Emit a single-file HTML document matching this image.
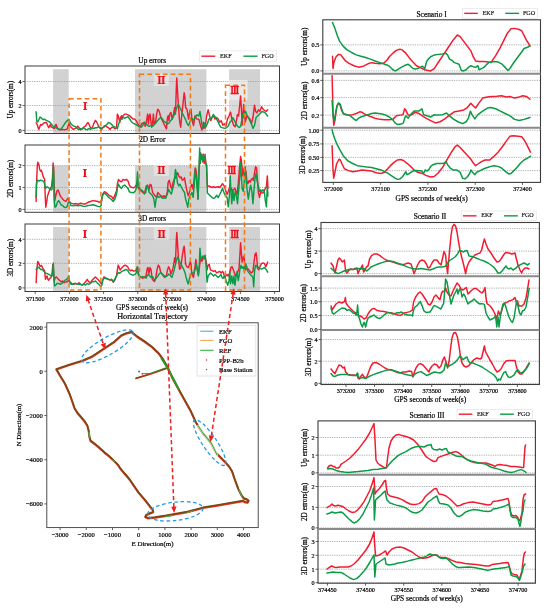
<!DOCTYPE html>
<html><head><meta charset="utf-8"><style>html,body{margin:0;padding:0;background:#fff;}svg{display:block;}</style></head>
<body><svg width="550" height="609" viewBox="0 0 550 609" font-family="'Liberation Serif', serif"><rect x="53.1" y="69.2" width="15.6" height="63.8" fill="#d2d2d2"/>
<rect x="135" y="69.2" width="71.4" height="63.8" fill="#d2d2d2"/>
<rect x="229.1" y="69.2" width="30.9" height="63.8" fill="#d2d2d2"/>
<rect x="25" y="66" width="254.5" height="67.5" fill="none" stroke="#3c3c3c" stroke-width="1.0"/>
<line x1="25" y1="130.4" x2="279.5" y2="130.4" stroke="#a0a0a0" stroke-width="0.8" stroke-dasharray="1.3,1.0"/>
<line x1="22.5" y1="130.4" x2="25" y2="130.4" stroke="#3c3c3c" stroke-width="0.8"/>
<text x="21.5" y="130.4" font-size="6.2" text-anchor="end" dominant-baseline="central" fill="#000" stroke="#000" stroke-width="0.2">0</text>
<line x1="25" y1="105.5" x2="279.5" y2="105.5" stroke="#a0a0a0" stroke-width="0.8" stroke-dasharray="1.3,1.0"/>
<line x1="22.5" y1="105.5" x2="25" y2="105.5" stroke="#3c3c3c" stroke-width="0.8"/>
<text x="21.5" y="105.5" font-size="6.2" text-anchor="end" dominant-baseline="central" fill="#000" stroke="#000" stroke-width="0.2">2</text>
<line x1="25" y1="81.5" x2="279.5" y2="81.5" stroke="#a0a0a0" stroke-width="0.8" stroke-dasharray="1.3,1.0"/>
<line x1="22.5" y1="81.5" x2="25" y2="81.5" stroke="#3c3c3c" stroke-width="0.8"/>
<text x="21.5" y="81.5" font-size="6.2" text-anchor="end" dominant-baseline="central" fill="#000" stroke="#000" stroke-width="0.2">4</text>
<text x="152.25" y="60.7" font-size="7.3" text-anchor="middle" dominant-baseline="central" fill="#000" stroke="#000" stroke-width="0.2">Up errors</text>
<text x="11.3" y="99.75" font-size="7.2" text-anchor="middle" dominant-baseline="central" fill="#000" stroke="#000" stroke-width="0.2" transform="rotate(-90 11.3 99.75)">Up errors(m)</text>
<rect x="53.1" y="165.6" width="15.6" height="46.2" fill="#d2d2d2"/>
<rect x="135" y="165.6" width="71.4" height="46.2" fill="#d2d2d2"/>
<rect x="229.1" y="165.6" width="30.9" height="46.2" fill="#d2d2d2"/>
<rect x="25" y="145" width="254.5" height="67.3" fill="none" stroke="#3c3c3c" stroke-width="1.0"/>
<line x1="25" y1="209.4" x2="279.5" y2="209.4" stroke="#a0a0a0" stroke-width="0.8" stroke-dasharray="1.3,1.0"/>
<line x1="22.5" y1="209.4" x2="25" y2="209.4" stroke="#3c3c3c" stroke-width="0.8"/>
<text x="21.5" y="209.4" font-size="6.2" text-anchor="end" dominant-baseline="central" fill="#000" stroke="#000" stroke-width="0.2">0</text>
<line x1="25" y1="187.5" x2="279.5" y2="187.5" stroke="#a0a0a0" stroke-width="0.8" stroke-dasharray="1.3,1.0"/>
<line x1="22.5" y1="187.5" x2="25" y2="187.5" stroke="#3c3c3c" stroke-width="0.8"/>
<text x="21.5" y="187.5" font-size="6.2" text-anchor="end" dominant-baseline="central" fill="#000" stroke="#000" stroke-width="0.2">1</text>
<line x1="25" y1="165.6" x2="279.5" y2="165.6" stroke="#a0a0a0" stroke-width="0.8" stroke-dasharray="1.3,1.0"/>
<line x1="22.5" y1="165.6" x2="25" y2="165.6" stroke="#3c3c3c" stroke-width="0.8"/>
<text x="21.5" y="165.6" font-size="6.2" text-anchor="end" dominant-baseline="central" fill="#000" stroke="#000" stroke-width="0.2">2</text>
<text x="152.25" y="139.7" font-size="7.3" text-anchor="middle" dominant-baseline="central" fill="#000" stroke="#000" stroke-width="0.2">2D Error</text>
<text x="11.3" y="178.65" font-size="7.2" text-anchor="middle" dominant-baseline="central" fill="#000" stroke="#000" stroke-width="0.2" transform="rotate(-90 11.3 178.65)">2D errors(m)</text>
<rect x="53.1" y="227" width="15.6" height="64" fill="#d2d2d2"/>
<rect x="135" y="227" width="71.4" height="64" fill="#d2d2d2"/>
<rect x="229.1" y="227" width="30.9" height="64" fill="#d2d2d2"/>
<rect x="25" y="224" width="254.5" height="67.5" fill="none" stroke="#3c3c3c" stroke-width="1.0"/>
<line x1="25" y1="287.9" x2="279.5" y2="287.9" stroke="#a0a0a0" stroke-width="0.8" stroke-dasharray="1.3,1.0"/>
<line x1="22.5" y1="287.9" x2="25" y2="287.9" stroke="#3c3c3c" stroke-width="0.8"/>
<text x="21.5" y="287.9" font-size="6.2" text-anchor="end" dominant-baseline="central" fill="#000" stroke="#000" stroke-width="0.2">0</text>
<line x1="25" y1="263.4" x2="279.5" y2="263.4" stroke="#a0a0a0" stroke-width="0.8" stroke-dasharray="1.3,1.0"/>
<line x1="22.5" y1="263.4" x2="25" y2="263.4" stroke="#3c3c3c" stroke-width="0.8"/>
<text x="21.5" y="263.4" font-size="6.2" text-anchor="end" dominant-baseline="central" fill="#000" stroke="#000" stroke-width="0.2">2</text>
<line x1="25" y1="239.3" x2="279.5" y2="239.3" stroke="#a0a0a0" stroke-width="0.8" stroke-dasharray="1.3,1.0"/>
<line x1="22.5" y1="239.3" x2="25" y2="239.3" stroke="#3c3c3c" stroke-width="0.8"/>
<text x="21.5" y="239.3" font-size="6.2" text-anchor="end" dominant-baseline="central" fill="#000" stroke="#000" stroke-width="0.2">4</text>
<text x="152.25" y="218.7" font-size="7.3" text-anchor="middle" dominant-baseline="central" fill="#000" stroke="#000" stroke-width="0.2">3D errors</text>
<text x="11.3" y="257.75" font-size="7.2" text-anchor="middle" dominant-baseline="central" fill="#000" stroke="#000" stroke-width="0.2" transform="rotate(-90 11.3 257.75)">3D errors(m)</text>
<line x1="35.2" y1="291.5" x2="35.2" y2="294" stroke="#3c3c3c" stroke-width="0.8"/>
<text x="35.2" y="298.3" font-size="6.2" text-anchor="middle" dominant-baseline="central" fill="#000" stroke="#000" stroke-width="0.2">371500</text>
<line x1="69.4" y1="291.5" x2="69.4" y2="294" stroke="#3c3c3c" stroke-width="0.8"/>
<text x="69.4" y="298.3" font-size="6.2" text-anchor="middle" dominant-baseline="central" fill="#000" stroke="#000" stroke-width="0.2">372000</text>
<line x1="103.6" y1="291.5" x2="103.6" y2="294" stroke="#3c3c3c" stroke-width="0.8"/>
<text x="103.6" y="298.3" font-size="6.2" text-anchor="middle" dominant-baseline="central" fill="#000" stroke="#000" stroke-width="0.2">372500</text>
<line x1="137.8" y1="291.5" x2="137.8" y2="294" stroke="#3c3c3c" stroke-width="0.8"/>
<text x="137.8" y="298.3" font-size="6.2" text-anchor="middle" dominant-baseline="central" fill="#000" stroke="#000" stroke-width="0.2">373000</text>
<line x1="172" y1="291.5" x2="172" y2="294" stroke="#3c3c3c" stroke-width="0.8"/>
<text x="172" y="298.3" font-size="6.2" text-anchor="middle" dominant-baseline="central" fill="#000" stroke="#000" stroke-width="0.2">373500</text>
<line x1="206.2" y1="291.5" x2="206.2" y2="294" stroke="#3c3c3c" stroke-width="0.8"/>
<text x="206.2" y="298.3" font-size="6.2" text-anchor="middle" dominant-baseline="central" fill="#000" stroke="#000" stroke-width="0.2">374000</text>
<line x1="240.4" y1="291.5" x2="240.4" y2="294" stroke="#3c3c3c" stroke-width="0.8"/>
<text x="240.4" y="298.3" font-size="6.2" text-anchor="middle" dominant-baseline="central" fill="#000" stroke="#000" stroke-width="0.2">374500</text>
<line x1="274.6" y1="291.5" x2="274.6" y2="294" stroke="#3c3c3c" stroke-width="0.8"/>
<text x="274.6" y="298.3" font-size="6.2" text-anchor="middle" dominant-baseline="central" fill="#000" stroke="#000" stroke-width="0.2">375000</text>
<text x="152" y="307.6" font-size="7.4" text-anchor="middle" dominant-baseline="central" fill="#000" stroke="#000" stroke-width="0.2">GPS seconds of week(s)</text>
<rect x="199.6" y="50.9" width="76.8" height="10.6" fill="#fff" stroke="#e0e0e0" stroke-width="0.6"/>
<line x1="201.37" y1="56.2" x2="215.27" y2="56.2" stroke="#f21c30" stroke-width="1.4"/>
<text x="220.11" y="55.6" font-size="6.1" text-anchor="start" dominant-baseline="central" fill="#222" stroke="#222" stroke-width="0.2">EKF</text>
<line x1="243.38" y1="56.2" x2="257.58" y2="56.2" stroke="#0a9c45" stroke-width="1.4"/>
<text x="261.42" y="55.6" font-size="6.1" text-anchor="start" dominant-baseline="central" fill="#222" stroke="#222" stroke-width="0.2">FGO</text>
<line x1="322.8" y1="70.9" x2="540.5" y2="70.9" stroke="#a0a0a0" stroke-width="0.8" stroke-dasharray="1.3,1.0"/>
<line x1="320.3" y1="70.9" x2="322.8" y2="70.9" stroke="#3c3c3c" stroke-width="0.8"/>
<text x="319.3" y="70.9" font-size="6.2" text-anchor="end" dominant-baseline="central" fill="#000" stroke="#000" stroke-width="0.2">0.0</text>
<line x1="322.8" y1="44.9" x2="540.5" y2="44.9" stroke="#a0a0a0" stroke-width="0.8" stroke-dasharray="1.3,1.0"/>
<line x1="320.3" y1="44.9" x2="322.8" y2="44.9" stroke="#3c3c3c" stroke-width="0.8"/>
<text x="319.3" y="44.9" font-size="6.2" text-anchor="end" dominant-baseline="central" fill="#000" stroke="#000" stroke-width="0.2">0.5</text>
<text x="304.4" y="46.8" font-size="7.3" text-anchor="middle" dominant-baseline="central" fill="#000" stroke="#000" stroke-width="0.2" transform="rotate(-90 304.4 46.8)">Up errors(m)</text>
<line x1="322.8" y1="115.1" x2="540.5" y2="115.1" stroke="#a0a0a0" stroke-width="0.8" stroke-dasharray="1.3,1.0"/>
<line x1="320.3" y1="115.1" x2="322.8" y2="115.1" stroke="#3c3c3c" stroke-width="0.8"/>
<text x="319.3" y="115.1" font-size="6.2" text-anchor="end" dominant-baseline="central" fill="#000" stroke="#000" stroke-width="0.2">0.2</text>
<line x1="322.8" y1="97.6" x2="540.5" y2="97.6" stroke="#a0a0a0" stroke-width="0.8" stroke-dasharray="1.3,1.0"/>
<line x1="320.3" y1="97.6" x2="322.8" y2="97.6" stroke="#3c3c3c" stroke-width="0.8"/>
<text x="319.3" y="97.6" font-size="6.2" text-anchor="end" dominant-baseline="central" fill="#000" stroke="#000" stroke-width="0.2">0.4</text>
<line x1="322.8" y1="80.4" x2="540.5" y2="80.4" stroke="#a0a0a0" stroke-width="0.8" stroke-dasharray="1.3,1.0"/>
<line x1="320.3" y1="80.4" x2="322.8" y2="80.4" stroke="#3c3c3c" stroke-width="0.8"/>
<text x="319.3" y="80.4" font-size="6.2" text-anchor="end" dominant-baseline="central" fill="#000" stroke="#000" stroke-width="0.2">0.6</text>
<text x="304.4" y="100.8" font-size="7.3" text-anchor="middle" dominant-baseline="central" fill="#000" stroke="#000" stroke-width="0.2" transform="rotate(-90 304.4 100.8)">2D errors(m)</text>
<line x1="322.8" y1="170.6" x2="540.5" y2="170.6" stroke="#a0a0a0" stroke-width="0.8" stroke-dasharray="1.3,1.0"/>
<line x1="320.3" y1="170.6" x2="322.8" y2="170.6" stroke="#3c3c3c" stroke-width="0.8"/>
<text x="319.3" y="170.6" font-size="6.2" text-anchor="end" dominant-baseline="central" fill="#000" stroke="#000" stroke-width="0.2">0.25</text>
<line x1="322.8" y1="157.4" x2="540.5" y2="157.4" stroke="#a0a0a0" stroke-width="0.8" stroke-dasharray="1.3,1.0"/>
<line x1="320.3" y1="157.4" x2="322.8" y2="157.4" stroke="#3c3c3c" stroke-width="0.8"/>
<text x="319.3" y="157.4" font-size="6.2" text-anchor="end" dominant-baseline="central" fill="#000" stroke="#000" stroke-width="0.2">0.50</text>
<line x1="322.8" y1="143.9" x2="540.5" y2="143.9" stroke="#a0a0a0" stroke-width="0.8" stroke-dasharray="1.3,1.0"/>
<line x1="320.3" y1="143.9" x2="322.8" y2="143.9" stroke="#3c3c3c" stroke-width="0.8"/>
<text x="319.3" y="143.9" font-size="6.2" text-anchor="end" dominant-baseline="central" fill="#000" stroke="#000" stroke-width="0.2">0.75</text>
<line x1="322.8" y1="130.2" x2="540.5" y2="130.2" stroke="#a0a0a0" stroke-width="0.8" stroke-dasharray="1.3,1.0"/>
<line x1="320.3" y1="130.2" x2="322.8" y2="130.2" stroke="#3c3c3c" stroke-width="0.8"/>
<text x="319.3" y="130.2" font-size="6.2" text-anchor="end" dominant-baseline="central" fill="#000" stroke="#000" stroke-width="0.2">1.00</text>
<text x="302.2" y="155.1" font-size="7.3" text-anchor="middle" dominant-baseline="central" fill="#000" stroke="#000" stroke-width="0.2" transform="rotate(-90 302.2 155.1)">3D errors(m)</text>
<rect x="322.8" y="19.8" width="217.7" height="162.6" fill="none" stroke="#3c3c3c" stroke-width="1.1"/>
<line x1="322.8" y1="73.8" x2="540.5" y2="73.8" stroke="#8a8a8a" stroke-width="2.0"/>
<line x1="322.8" y1="127.8" x2="540.5" y2="127.8" stroke="#8a8a8a" stroke-width="2.0"/>
<line x1="333.3" y1="182.4" x2="333.3" y2="184.9" stroke="#3c3c3c" stroke-width="0.8"/>
<text x="333.3" y="188.7" font-size="6.2" text-anchor="middle" dominant-baseline="central" fill="#000" stroke="#000" stroke-width="0.2">372000</text>
<line x1="380.6" y1="182.4" x2="380.6" y2="184.9" stroke="#3c3c3c" stroke-width="0.8"/>
<text x="380.6" y="188.7" font-size="6.2" text-anchor="middle" dominant-baseline="central" fill="#000" stroke="#000" stroke-width="0.2">372100</text>
<line x1="427.9" y1="182.4" x2="427.9" y2="184.9" stroke="#3c3c3c" stroke-width="0.8"/>
<text x="427.9" y="188.7" font-size="6.2" text-anchor="middle" dominant-baseline="central" fill="#000" stroke="#000" stroke-width="0.2">372200</text>
<line x1="475.2" y1="182.4" x2="475.2" y2="184.9" stroke="#3c3c3c" stroke-width="0.8"/>
<text x="475.2" y="188.7" font-size="6.2" text-anchor="middle" dominant-baseline="central" fill="#000" stroke="#000" stroke-width="0.2">372300</text>
<line x1="522.5" y1="182.4" x2="522.5" y2="184.9" stroke="#3c3c3c" stroke-width="0.8"/>
<text x="522.5" y="188.7" font-size="6.2" text-anchor="middle" dominant-baseline="central" fill="#000" stroke="#000" stroke-width="0.2">372400</text>
<text x="431.65" y="198.5" font-size="7.4" text-anchor="middle" dominant-baseline="central" fill="#000" stroke="#000" stroke-width="0.2">GPS seconds of week(s)</text>
<text x="431.6" y="14.8" font-size="7.4" text-anchor="middle" dominant-baseline="central" fill="#000" stroke="#000" stroke-width="0.2">Scenario I</text>
<rect x="462.5" y="8.3" width="75" height="10.1" fill="#fff" stroke="#e0e0e0" stroke-width="0.6"/>
<line x1="464.23" y1="13.35" x2="477.8" y2="13.35" stroke="#f21c30" stroke-width="1.4"/>
<text x="482.52" y="12.75" font-size="6.1" text-anchor="start" dominant-baseline="central" fill="#222" stroke="#222" stroke-width="0.2">EKF</text>
<line x1="505.25" y1="13.35" x2="519.12" y2="13.35" stroke="#0a9c45" stroke-width="1.4"/>
<text x="522.88" y="12.75" font-size="6.1" text-anchor="start" dominant-baseline="central" fill="#222" stroke="#222" stroke-width="0.2">FGO</text>
<line x1="321" y1="273.6" x2="539.4" y2="273.6" stroke="#a0a0a0" stroke-width="0.8" stroke-dasharray="1.3,1.0"/>
<line x1="318.5" y1="273.6" x2="321" y2="273.6" stroke="#3c3c3c" stroke-width="0.8"/>
<text x="317.5" y="273.6" font-size="6.2" text-anchor="end" dominant-baseline="central" fill="#000" stroke="#000" stroke-width="0.2">0</text>
<line x1="321" y1="251.1" x2="539.4" y2="251.1" stroke="#a0a0a0" stroke-width="0.8" stroke-dasharray="1.3,1.0"/>
<line x1="318.5" y1="251.1" x2="321" y2="251.1" stroke="#3c3c3c" stroke-width="0.8"/>
<text x="317.5" y="251.1" font-size="6.2" text-anchor="end" dominant-baseline="central" fill="#000" stroke="#000" stroke-width="0.2">2</text>
<line x1="321" y1="228.6" x2="539.4" y2="228.6" stroke="#a0a0a0" stroke-width="0.8" stroke-dasharray="1.3,1.0"/>
<line x1="318.5" y1="228.6" x2="321" y2="228.6" stroke="#3c3c3c" stroke-width="0.8"/>
<text x="317.5" y="228.6" font-size="6.2" text-anchor="end" dominant-baseline="central" fill="#000" stroke="#000" stroke-width="0.2">4</text>
<text x="308.6" y="249.4" font-size="7.3" text-anchor="middle" dominant-baseline="central" fill="#000" stroke="#000" stroke-width="0.2" transform="rotate(-90 308.6 249.4)">Up errors(m)</text>
<line x1="321" y1="329.5" x2="539.4" y2="329.5" stroke="#a0a0a0" stroke-width="0.8" stroke-dasharray="1.3,1.0"/>
<line x1="318.5" y1="329.5" x2="321" y2="329.5" stroke="#3c3c3c" stroke-width="0.8"/>
<text x="317.5" y="329.5" font-size="6.2" text-anchor="end" dominant-baseline="central" fill="#000" stroke="#000" stroke-width="0.2">0.0</text>
<line x1="321" y1="315.5" x2="539.4" y2="315.5" stroke="#a0a0a0" stroke-width="0.8" stroke-dasharray="1.3,1.0"/>
<line x1="318.5" y1="315.5" x2="321" y2="315.5" stroke="#3c3c3c" stroke-width="0.8"/>
<text x="317.5" y="315.5" font-size="6.2" text-anchor="end" dominant-baseline="central" fill="#000" stroke="#000" stroke-width="0.2">0.5</text>
<line x1="321" y1="301.7" x2="539.4" y2="301.7" stroke="#a0a0a0" stroke-width="0.8" stroke-dasharray="1.3,1.0"/>
<line x1="318.5" y1="301.7" x2="321" y2="301.7" stroke="#3c3c3c" stroke-width="0.8"/>
<text x="317.5" y="301.7" font-size="6.2" text-anchor="end" dominant-baseline="central" fill="#000" stroke="#000" stroke-width="0.2">1.0</text>
<line x1="321" y1="288.1" x2="539.4" y2="288.1" stroke="#a0a0a0" stroke-width="0.8" stroke-dasharray="1.3,1.0"/>
<line x1="318.5" y1="288.1" x2="321" y2="288.1" stroke="#3c3c3c" stroke-width="0.8"/>
<text x="317.5" y="288.1" font-size="6.2" text-anchor="end" dominant-baseline="central" fill="#000" stroke="#000" stroke-width="0.2">1.5</text>
<text x="303.4" y="303.15" font-size="7.3" text-anchor="middle" dominant-baseline="central" fill="#000" stroke="#000" stroke-width="0.2" transform="rotate(-90 303.4 303.15)">2D errors(m)</text>
<line x1="321" y1="383.4" x2="539.4" y2="383.4" stroke="#a0a0a0" stroke-width="0.8" stroke-dasharray="1.3,1.0"/>
<line x1="318.5" y1="383.4" x2="321" y2="383.4" stroke="#3c3c3c" stroke-width="0.8"/>
<text x="317.5" y="383.4" font-size="6.2" text-anchor="end" dominant-baseline="central" fill="#000" stroke="#000" stroke-width="0.2">0</text>
<line x1="321" y1="361.2" x2="539.4" y2="361.2" stroke="#a0a0a0" stroke-width="0.8" stroke-dasharray="1.3,1.0"/>
<line x1="318.5" y1="361.2" x2="321" y2="361.2" stroke="#3c3c3c" stroke-width="0.8"/>
<text x="317.5" y="361.2" font-size="6.2" text-anchor="end" dominant-baseline="central" fill="#000" stroke="#000" stroke-width="0.2">2</text>
<line x1="321" y1="339.5" x2="539.4" y2="339.5" stroke="#a0a0a0" stroke-width="0.8" stroke-dasharray="1.3,1.0"/>
<line x1="318.5" y1="339.5" x2="321" y2="339.5" stroke="#3c3c3c" stroke-width="0.8"/>
<text x="317.5" y="339.5" font-size="6.2" text-anchor="end" dominant-baseline="central" fill="#000" stroke="#000" stroke-width="0.2">4</text>
<text x="308.4" y="357.25" font-size="7.3" text-anchor="middle" dominant-baseline="central" fill="#000" stroke="#000" stroke-width="0.2" transform="rotate(-90 308.4 357.25)">3D errors(m)</text>
<rect x="321" y="222.5" width="218.4" height="162" fill="none" stroke="#3c3c3c" stroke-width="1.1"/>
<line x1="321" y1="276.3" x2="539.4" y2="276.3" stroke="#8a8a8a" stroke-width="2.0"/>
<line x1="321" y1="330" x2="539.4" y2="330" stroke="#8a8a8a" stroke-width="2.0"/>
<line x1="346" y1="384.5" x2="346" y2="387" stroke="#3c3c3c" stroke-width="0.8"/>
<text x="346" y="390.8" font-size="6.2" text-anchor="middle" dominant-baseline="central" fill="#000" stroke="#000" stroke-width="0.2">373200</text>
<line x1="374.57" y1="384.5" x2="374.57" y2="387" stroke="#3c3c3c" stroke-width="0.8"/>
<text x="374.57" y="390.8" font-size="6.2" text-anchor="middle" dominant-baseline="central" fill="#000" stroke="#000" stroke-width="0.2">373300</text>
<line x1="403.14" y1="384.5" x2="403.14" y2="387" stroke="#3c3c3c" stroke-width="0.8"/>
<text x="403.14" y="390.8" font-size="6.2" text-anchor="middle" dominant-baseline="central" fill="#000" stroke="#000" stroke-width="0.2">373400</text>
<line x1="431.71" y1="384.5" x2="431.71" y2="387" stroke="#3c3c3c" stroke-width="0.8"/>
<text x="431.71" y="390.8" font-size="6.2" text-anchor="middle" dominant-baseline="central" fill="#000" stroke="#000" stroke-width="0.2">373500</text>
<line x1="460.28" y1="384.5" x2="460.28" y2="387" stroke="#3c3c3c" stroke-width="0.8"/>
<text x="460.28" y="390.8" font-size="6.2" text-anchor="middle" dominant-baseline="central" fill="#000" stroke="#000" stroke-width="0.2">373600</text>
<line x1="488.85" y1="384.5" x2="488.85" y2="387" stroke="#3c3c3c" stroke-width="0.8"/>
<text x="488.85" y="390.8" font-size="6.2" text-anchor="middle" dominant-baseline="central" fill="#000" stroke="#000" stroke-width="0.2">373700</text>
<line x1="517.42" y1="384.5" x2="517.42" y2="387" stroke="#3c3c3c" stroke-width="0.8"/>
<text x="517.42" y="390.8" font-size="6.2" text-anchor="middle" dominant-baseline="central" fill="#000" stroke="#000" stroke-width="0.2">373800</text>
<text x="430.2" y="399.4" font-size="7.4" text-anchor="middle" dominant-baseline="central" fill="#000" stroke="#000" stroke-width="0.2">GPS seconds of week(s)</text>
<text x="430" y="216.5" font-size="7.4" text-anchor="middle" dominant-baseline="central" fill="#000" stroke="#000" stroke-width="0.2">Scenario II</text>
<rect x="461.2" y="211" width="75" height="9.7" fill="#fff" stroke="#e0e0e0" stroke-width="0.6"/>
<line x1="462.93" y1="215.85" x2="476.5" y2="215.85" stroke="#f21c30" stroke-width="1.4"/>
<text x="481.23" y="215.25" font-size="6.1" text-anchor="start" dominant-baseline="central" fill="#222" stroke="#222" stroke-width="0.2">EKF</text>
<line x1="503.95" y1="215.85" x2="517.83" y2="215.85" stroke="#0a9c45" stroke-width="1.4"/>
<text x="521.58" y="215.25" font-size="6.1" text-anchor="start" dominant-baseline="central" fill="#222" stroke="#222" stroke-width="0.2">FGO</text>
<line x1="318" y1="472.9" x2="535.4" y2="472.9" stroke="#a0a0a0" stroke-width="0.8" stroke-dasharray="1.3,1.0"/>
<line x1="315.5" y1="472.9" x2="318" y2="472.9" stroke="#3c3c3c" stroke-width="0.8"/>
<text x="314.5" y="472.9" font-size="6.2" text-anchor="end" dominant-baseline="central" fill="#000" stroke="#000" stroke-width="0.2">0</text>
<line x1="318" y1="455.2" x2="535.4" y2="455.2" stroke="#a0a0a0" stroke-width="0.8" stroke-dasharray="1.3,1.0"/>
<line x1="315.5" y1="455.2" x2="318" y2="455.2" stroke="#3c3c3c" stroke-width="0.8"/>
<text x="314.5" y="455.2" font-size="6.2" text-anchor="end" dominant-baseline="central" fill="#000" stroke="#000" stroke-width="0.2">1</text>
<line x1="318" y1="437.5" x2="535.4" y2="437.5" stroke="#a0a0a0" stroke-width="0.8" stroke-dasharray="1.3,1.0"/>
<line x1="315.5" y1="437.5" x2="318" y2="437.5" stroke="#3c3c3c" stroke-width="0.8"/>
<text x="314.5" y="437.5" font-size="6.2" text-anchor="end" dominant-baseline="central" fill="#000" stroke="#000" stroke-width="0.2">2</text>
<text x="304.2" y="447.85" font-size="7.3" text-anchor="middle" dominant-baseline="central" fill="#000" stroke="#000" stroke-width="0.2" transform="rotate(-90 304.2 447.85)">Up errors(m)</text>
<line x1="318" y1="527.9" x2="535.4" y2="527.9" stroke="#a0a0a0" stroke-width="0.8" stroke-dasharray="1.3,1.0"/>
<line x1="315.5" y1="527.9" x2="318" y2="527.9" stroke="#3c3c3c" stroke-width="0.8"/>
<text x="314.5" y="527.9" font-size="6.2" text-anchor="end" dominant-baseline="central" fill="#000" stroke="#000" stroke-width="0.2">0</text>
<line x1="318" y1="507.4" x2="535.4" y2="507.4" stroke="#a0a0a0" stroke-width="0.8" stroke-dasharray="1.3,1.0"/>
<line x1="315.5" y1="507.4" x2="318" y2="507.4" stroke="#3c3c3c" stroke-width="0.8"/>
<text x="314.5" y="507.4" font-size="6.2" text-anchor="end" dominant-baseline="central" fill="#000" stroke="#000" stroke-width="0.2">1</text>
<line x1="318" y1="486.5" x2="535.4" y2="486.5" stroke="#a0a0a0" stroke-width="0.8" stroke-dasharray="1.3,1.0"/>
<line x1="315.5" y1="486.5" x2="318" y2="486.5" stroke="#3c3c3c" stroke-width="0.8"/>
<text x="314.5" y="486.5" font-size="6.2" text-anchor="end" dominant-baseline="central" fill="#000" stroke="#000" stroke-width="0.2">2</text>
<text x="304.2" y="501.9" font-size="7.3" text-anchor="middle" dominant-baseline="central" fill="#000" stroke="#000" stroke-width="0.2" transform="rotate(-90 304.2 501.9)">2D errors(m)</text>
<line x1="318" y1="582.7" x2="535.4" y2="582.7" stroke="#a0a0a0" stroke-width="0.8" stroke-dasharray="1.3,1.0"/>
<line x1="315.5" y1="582.7" x2="318" y2="582.7" stroke="#3c3c3c" stroke-width="0.8"/>
<text x="314.5" y="582.7" font-size="6.2" text-anchor="end" dominant-baseline="central" fill="#000" stroke="#000" stroke-width="0.2">0</text>
<line x1="318" y1="569.2" x2="535.4" y2="569.2" stroke="#a0a0a0" stroke-width="0.8" stroke-dasharray="1.3,1.0"/>
<line x1="315.5" y1="569.2" x2="318" y2="569.2" stroke="#3c3c3c" stroke-width="0.8"/>
<text x="314.5" y="569.2" font-size="6.2" text-anchor="end" dominant-baseline="central" fill="#000" stroke="#000" stroke-width="0.2">1</text>
<line x1="318" y1="555.3" x2="535.4" y2="555.3" stroke="#a0a0a0" stroke-width="0.8" stroke-dasharray="1.3,1.0"/>
<line x1="315.5" y1="555.3" x2="318" y2="555.3" stroke="#3c3c3c" stroke-width="0.8"/>
<text x="314.5" y="555.3" font-size="6.2" text-anchor="end" dominant-baseline="central" fill="#000" stroke="#000" stroke-width="0.2">2</text>
<line x1="318" y1="541.5" x2="535.4" y2="541.5" stroke="#a0a0a0" stroke-width="0.8" stroke-dasharray="1.3,1.0"/>
<line x1="315.5" y1="541.5" x2="318" y2="541.5" stroke="#3c3c3c" stroke-width="0.8"/>
<text x="314.5" y="541.5" font-size="6.2" text-anchor="end" dominant-baseline="central" fill="#000" stroke="#000" stroke-width="0.2">3</text>
<text x="304.2" y="556.1" font-size="7.3" text-anchor="middle" dominant-baseline="central" fill="#000" stroke="#000" stroke-width="0.2" transform="rotate(-90 304.2 556.1)">3D errors(m)</text>
<rect x="318" y="420.9" width="217.4" height="162.3" fill="none" stroke="#3c3c3c" stroke-width="1.1"/>
<line x1="318" y1="474.8" x2="535.4" y2="474.8" stroke="#8a8a8a" stroke-width="2.0"/>
<line x1="318" y1="529" x2="535.4" y2="529" stroke="#8a8a8a" stroke-width="2.0"/>
<line x1="327.4" y1="583.2" x2="327.4" y2="585.7" stroke="#3c3c3c" stroke-width="0.8"/>
<text x="327.4" y="589.5" font-size="6.2" text-anchor="middle" dominant-baseline="central" fill="#000" stroke="#000" stroke-width="0.2">374450</text>
<line x1="365.55" y1="583.2" x2="365.55" y2="585.7" stroke="#3c3c3c" stroke-width="0.8"/>
<text x="365.55" y="589.5" font-size="6.2" text-anchor="middle" dominant-baseline="central" fill="#000" stroke="#000" stroke-width="0.2">374500</text>
<line x1="403.7" y1="583.2" x2="403.7" y2="585.7" stroke="#3c3c3c" stroke-width="0.8"/>
<text x="403.7" y="589.5" font-size="6.2" text-anchor="middle" dominant-baseline="central" fill="#000" stroke="#000" stroke-width="0.2">374550</text>
<line x1="441.85" y1="583.2" x2="441.85" y2="585.7" stroke="#3c3c3c" stroke-width="0.8"/>
<text x="441.85" y="589.5" font-size="6.2" text-anchor="middle" dominant-baseline="central" fill="#000" stroke="#000" stroke-width="0.2">374600</text>
<line x1="480" y1="583.2" x2="480" y2="585.7" stroke="#3c3c3c" stroke-width="0.8"/>
<text x="480" y="589.5" font-size="6.2" text-anchor="middle" dominant-baseline="central" fill="#000" stroke="#000" stroke-width="0.2">374650</text>
<line x1="518.15" y1="583.2" x2="518.15" y2="585.7" stroke="#3c3c3c" stroke-width="0.8"/>
<text x="518.15" y="589.5" font-size="6.2" text-anchor="middle" dominant-baseline="central" fill="#000" stroke="#000" stroke-width="0.2">374700</text>
<text x="426.7" y="598.7" font-size="7.4" text-anchor="middle" dominant-baseline="central" fill="#000" stroke="#000" stroke-width="0.2">GPS seconds of week(s)</text>
<text x="427" y="415.7" font-size="7.4" text-anchor="middle" dominant-baseline="central" fill="#000" stroke="#000" stroke-width="0.2">Scenario III</text>
<rect x="457" y="409.5" width="75.3" height="9.4" fill="#fff" stroke="#e0e0e0" stroke-width="0.6"/>
<line x1="458.73" y1="414.2" x2="472.36" y2="414.2" stroke="#f21c30" stroke-width="1.4"/>
<text x="477.11" y="413.6" font-size="6.1" text-anchor="start" dominant-baseline="central" fill="#222" stroke="#222" stroke-width="0.2">EKF</text>
<line x1="499.92" y1="414.2" x2="513.85" y2="414.2" stroke="#0a9c45" stroke-width="1.4"/>
<text x="517.62" y="413.6" font-size="6.1" text-anchor="start" dominant-baseline="central" fill="#222" stroke="#222" stroke-width="0.2">FGO</text>
<rect x="46.8" y="322.8" width="211.4" height="204.8" fill="none" stroke="#3c3c3c" stroke-width="0.9"/>
<line x1="60.1" y1="527.6" x2="60.1" y2="530.1" stroke="#3c3c3c" stroke-width="0.8"/>
<text x="60.1" y="534.3" font-size="6.6" text-anchor="middle" dominant-baseline="central" fill="#000" stroke="#000" stroke-width="0.2">−3000</text>
<line x1="86.3" y1="527.6" x2="86.3" y2="530.1" stroke="#3c3c3c" stroke-width="0.8"/>
<text x="86.3" y="534.3" font-size="6.6" text-anchor="middle" dominant-baseline="central" fill="#000" stroke="#000" stroke-width="0.2">−2000</text>
<line x1="112.5" y1="527.6" x2="112.5" y2="530.1" stroke="#3c3c3c" stroke-width="0.8"/>
<text x="112.5" y="534.3" font-size="6.6" text-anchor="middle" dominant-baseline="central" fill="#000" stroke="#000" stroke-width="0.2">−1000</text>
<line x1="138.7" y1="527.6" x2="138.7" y2="530.1" stroke="#3c3c3c" stroke-width="0.8"/>
<text x="138.7" y="534.3" font-size="6.6" text-anchor="middle" dominant-baseline="central" fill="#000" stroke="#000" stroke-width="0.2">0</text>
<line x1="164.9" y1="527.6" x2="164.9" y2="530.1" stroke="#3c3c3c" stroke-width="0.8"/>
<text x="164.9" y="534.3" font-size="6.6" text-anchor="middle" dominant-baseline="central" fill="#000" stroke="#000" stroke-width="0.2">1000</text>
<line x1="191.1" y1="527.6" x2="191.1" y2="530.1" stroke="#3c3c3c" stroke-width="0.8"/>
<text x="191.1" y="534.3" font-size="6.6" text-anchor="middle" dominant-baseline="central" fill="#000" stroke="#000" stroke-width="0.2">2000</text>
<line x1="217.3" y1="527.6" x2="217.3" y2="530.1" stroke="#3c3c3c" stroke-width="0.8"/>
<text x="217.3" y="534.3" font-size="6.6" text-anchor="middle" dominant-baseline="central" fill="#000" stroke="#000" stroke-width="0.2">3000</text>
<line x1="243.5" y1="527.6" x2="243.5" y2="530.1" stroke="#3c3c3c" stroke-width="0.8"/>
<text x="243.5" y="534.3" font-size="6.6" text-anchor="middle" dominant-baseline="central" fill="#000" stroke="#000" stroke-width="0.2">4000</text>
<line x1="44.3" y1="327.1" x2="46.8" y2="327.1" stroke="#3c3c3c" stroke-width="0.8"/>
<text x="42.8" y="327.1" font-size="6.6" text-anchor="end" dominant-baseline="central" fill="#000" stroke="#000" stroke-width="0.2">2000</text>
<line x1="44.3" y1="371.3" x2="46.8" y2="371.3" stroke="#3c3c3c" stroke-width="0.8"/>
<text x="42.8" y="371.3" font-size="6.6" text-anchor="end" dominant-baseline="central" fill="#000" stroke="#000" stroke-width="0.2">0</text>
<line x1="44.3" y1="415.5" x2="46.8" y2="415.5" stroke="#3c3c3c" stroke-width="0.8"/>
<text x="42.8" y="415.5" font-size="6.6" text-anchor="end" dominant-baseline="central" fill="#000" stroke="#000" stroke-width="0.2">−2000</text>
<line x1="44.3" y1="459.7" x2="46.8" y2="459.7" stroke="#3c3c3c" stroke-width="0.8"/>
<text x="42.8" y="459.7" font-size="6.6" text-anchor="end" dominant-baseline="central" fill="#000" stroke="#000" stroke-width="0.2">−4000</text>
<line x1="44.3" y1="503.9" x2="46.8" y2="503.9" stroke="#3c3c3c" stroke-width="0.8"/>
<text x="42.8" y="503.9" font-size="6.6" text-anchor="end" dominant-baseline="central" fill="#000" stroke="#000" stroke-width="0.2">−6000</text>
<text x="152.5" y="316.2" font-size="8.2" text-anchor="middle" dominant-baseline="central" fill="#000" stroke="#000" stroke-width="0.2">Horizontal Trajectory</text>
<text x="152.5" y="543.2" font-size="6.9" text-anchor="middle" dominant-baseline="central" fill="#000" stroke="#000" stroke-width="0.2">E Direction(m)</text>
<text x="18.5" y="425" font-size="6.9" text-anchor="middle" dominant-baseline="central" fill="#000" stroke="#000" stroke-width="0.2" transform="rotate(-90 18.5 425)">N Direction(m)</text>
<rect x="153.85" y="73.55" width="15" height="12.4" fill="#fff" fill-opacity="0.35"/>
<rect x="153.85" y="163.6" width="15" height="12.4" fill="#fff" fill-opacity="0.35"/>
<rect x="153.8" y="227.3" width="15.6" height="12.8" fill="#fff" fill-opacity="0.35"/>
<rect x="226.3" y="165.1" width="11" height="9.6" fill="#fff" fill-opacity="0.35"/>
<rect x="229.3" y="228.9" width="11" height="9.6" fill="#fff" fill-opacity="0.35"/>
<rect x="228.6" y="80" width="19" height="20" fill="#fff" fill-opacity="0.5"/>
<rect x="228.6" y="100" width="16" height="31" fill="#fff" fill-opacity="0.2"/>
<polyline points="332.55,56.26 333.03,68.56 333.97,61.94 336.1,56.74 338.46,54.37 340.83,54.85 343.19,57.92 345.56,60.99 349.1,63.36 353.83,65.72 358.56,67.14 363.29,66.19 368.01,63.83 371.56,62.65 375.11,63.36 379.83,63.83 383.38,63.36 386.93,60.28 389.29,56.74 392.84,53.19 396.38,50.35 399.93,49.17 402.29,50.12 405.84,53.19 409.39,57.92 412.93,61.94 416.48,65.72 422.36,68.56 424.73,69.74 428.27,70.45 430.64,70.92 434.18,68.56 438.91,61.47 443.64,54.37 448.37,47.28 453.1,40.19 457.35,34.99 460.19,36.64 463.74,41.37 467.28,46.1 470.83,50.83 473.19,56.74 475.56,60.99 479.1,61.47 483.83,61.47 488.56,61.94 490.92,62.65 495.65,55.56 500.38,47.28 503.92,40.19 507.47,33.1 511.02,28.84 514.56,28.37 519.29,29.55 521.65,30.73 524.02,35.46 526.38,40.19 528.75,43.74 529.93,46.1" fill="none" stroke="#f21c30" stroke-width="1.5" stroke-linejoin="round" stroke-linecap="round"/>
<polyline points="332.55,22.46 334.92,28.37 337.28,35.46 339.65,41.37 343.19,46.1 346.74,49.65 351.47,52.48 356.19,54.85 360.92,56.26 365.65,57.45 370.38,59.1 375.11,60.99 379.83,62.65 383.38,63.83 386.93,65.01 389.29,66.19 391.65,68.56 394.02,70.45 395.2,70.92 397.57,69.74 401.11,67.38 403.48,66.19 405.84,65.01 408.2,64.3 410.57,66.19 412.93,68.56 415.3,69.03 417.66,68.56 422.36,66.19 424.73,68.56 426.62,61.47 428.27,59.1 430.64,56.74 433,55.56 435.37,54.85 438.91,54.37 442.46,53.9 446,53.19 447.9,55.56 449.55,59.1 451.91,60.28 454.28,62.65 456.64,63.36 459.01,64.3 461.37,70.45 463.74,70.92 466.1,69.74 468.46,67.38 470.83,65.72 473.19,66.67 475.56,67.38 477.92,65.72 479.1,69.74 481.47,68.56 483.83,67.38 486.19,65.01 488.56,62.65 490.92,61.94 494.47,61.47 498.01,61.94 501.56,63.83 505.11,67.38 507.94,70.45 509.83,68.56 512.2,65.01 514.56,61.47 518.11,56.74 521.65,52.01 524.02,48.46 527.57,47.28 529.93,45.63" fill="none" stroke="#0a9c45" stroke-width="1.5" stroke-linejoin="round" stroke-linecap="round"/>
<polyline points="332.08,75.64 333.03,112.28 333.74,125.28 334.92,120.56 336.1,111.1 337.28,105.19 338.94,103.53 340.12,105.19 341.54,109.92 343.19,113.46 345.56,114.65 349.1,115.12 352.65,114.65 356.19,113.46 359.74,111.81 362.1,112.28 365.65,114.65 370.38,116.54 375.11,118.19 379.83,119.37 384.56,119.85 389.29,119.85 392.84,119.37 396.38,115.83 399.93,115.12 403,114.65 404.66,108.74 405.84,110.39 408.2,115.12 411.75,114.65 415.3,112.28 418.84,113.46 422.36,115.83 425.91,118.19 430.64,120.56 435.37,122.92 440.09,121.74 444.82,118.9 449.55,115.12 454.28,111.81 459.01,111.1 463.74,109.92 467.28,107.55 470.83,103.3 473.19,105.66 475.56,108.03 479.1,102.83 482.65,98.1 487.38,96.91 492.1,96.44 496.83,96.21 501.56,95.73 506.29,96.91 509.83,96.44 514.56,98.1 519.29,96.91 522.84,95.73 526.38,96.44 529.93,99.28" fill="none" stroke="#f21c30" stroke-width="1.5" stroke-linejoin="round" stroke-linecap="round"/>
<polyline points="332.08,100.46 333.03,115.83 333.97,120.56 335.39,114.65 336.81,106.37 338.46,102.83 340.12,104.01 341.54,108.74 343.19,113.46 346.74,114.65 350.28,115.83 353.83,118.9 356.19,120.56 358.56,118.19 360.92,117.01 364.47,115.83 368.01,114.65 371.56,113.46 375.11,112.99 378.65,113.46 382.2,113.94 385.74,115.12 389.29,117.01 392.84,119.85 395.2,122.92 397.57,124.57 401.11,124.1 403.48,122.92 404.66,118.19 405.84,115.83 408.2,118.19 410.57,114.65 414.11,111.1 418.84,111.1 421.89,108.74 423.55,114.65 427.09,115.83 430.64,117.01 434.18,114.65 437.73,115.12 442.46,114.65 446.48,112.99 449.55,115.83 453.1,118.9 457.83,121.74 462.55,123.63 466.1,121.74 468.46,118.19 470.35,111.1 472.01,114.65 474.85,118.9 477.92,114.65 482.65,111.1 487.38,108.03 490.92,107.55 495.65,108.74 500.38,111.1 505.11,113.46 508.65,115.12 511.02,116.54 514.56,119.37 519.29,120.56 524.02,119.37 527.57,118.19 529.93,117.48" fill="none" stroke="#0a9c45" stroke-width="1.5" stroke-linejoin="round" stroke-linecap="round"/>
<polyline points="332.08,145.8 333.03,169.92 333.74,178.19 334.92,172.28 336.57,164.01 338.94,159.28 340.35,159.99 342.01,164.01 344.37,168.74 347.92,170.39 352.65,171.81 357.38,171.1 362.1,169.92 366.83,170.39 371.56,171.1 376.29,172.75 381.02,173.46 384.56,172.28 386.93,169.44 390.47,165.66 394.02,162.35 397.57,159.99 400.64,159.52 403.48,160.46 407.02,163.3 410.57,166.37 414.11,169.92 417.66,172.28 422.36,173.46 425.91,175.35 430.64,177.01 434.18,176.54 437.73,173.46 442.46,167.55 447.19,159.28 451.91,151.48 455.46,146.28 457.35,145.09 460.19,147.46 463.74,151.48 467.28,155.26 470.83,159.28 473.19,162.83 475.56,165.66 477.92,164.01 481.47,161.64 485.01,159.99 489.74,159.99 493.29,156.91 498.01,152.19 502.74,146.28 506.29,141.08 509.83,136.35 513.38,135.64 518.11,136.35 521.65,136.82 524.02,139.66 526.38,143.91 528.75,148.64 530.4,152.19" fill="none" stroke="#f21c30" stroke-width="1.5" stroke-linejoin="round" stroke-linecap="round"/>
<polyline points="332.08,129.73 333.26,134.46 334.92,139.18 336.81,143.91 339.65,149.35 343.19,155.73 347.92,160.93 352.65,163.53 357.38,165.66 362.1,166.37 366.83,167.08 371.56,167.55 376.29,168.74 381.02,169.92 384.56,171.57 388.11,173.46 391.65,175.83 395.2,178.19 397.57,179.37 399.93,178.9 402.29,177.01 404.66,173.46 405.84,171.81 407.02,174.65 409.39,173.46 412.93,171.1 416.48,170.39 421.89,171.1 423.55,173.46 425.2,169.92 427.09,171.1 429.46,168.74 430.64,166.37 433,164.72 436.55,163.53 440.09,163.53 443.64,163.3 446,161.64 447.9,165.19 450.26,168.03 453.1,169.92 456.64,169.92 460.19,172.28 462.55,178.19 464.92,178.9 467.28,177.01 469.65,173.46 470.83,169.92 472.48,172.28 474.85,174.65 476.74,172.28 480.28,170.63 483.83,168.74 487.38,167.55 490.92,166.37 494.47,165.66 498.01,166.37 501.56,168.03 505.11,171.1 508.65,173.94 511.02,173.46 513.38,171.1 516.93,167.55 520.47,163.3 524.02,159.99 527.57,158.1 530.64,156.21" fill="none" stroke="#0a9c45" stroke-width="1.5" stroke-linejoin="round" stroke-linecap="round"/>
<polyline points="331,263 333,266 335,273 336.4,267 338,260 339.4,258 341,260 342.4,262 343.6,261 344.4,260 345.6,271 347,273 349,270 351,269 353,269.6 355,268.4 357,268 358,273.6 359.6,270 361,268 362.4,265 363.6,272 365,270 366.4,267 368,266 369.6,259 371.6,255.6 374,254 377,254 380,255.6 383,258 386,260 389,261 393,262 397,263.6 400,264.4 404,264.4 408,263 411,264 412.4,268 414,273.6 415.6,270 417.6,265 419.6,261.4 422,260 424.4,261 426.4,264 428,268 430,267 432,263 434,260 437,260 439,263 441,265 442.4,259 444,251.6 445.6,255 446.4,264 447.6,273.6 448.4,264 449.6,250 451,236 452.4,227 454,224.4 455.6,226 457,232 458.4,241 460,250 461.6,257 463,262 464.4,268 465.6,273.6 467,267 469,262 472,258 475,255 478,253.6 480,253 481.6,250 483,244 484.4,239 486,244 488,249 491,253 494,258 497,262 499,261.6 501,259 503.6,255 505.6,252.4 509,253 512,254 515,253 516.4,259 518,265 520,270 521.6,273 523,270 525,268 527,268 529,269" fill="none" stroke="#f21c30" stroke-width="1.5" stroke-linejoin="round" stroke-linecap="round"/>
<polyline points="331,268.4 333,270 335,272 338,273.6 341,272.4 344,271 347,270 350,269.2 353,269.6 356,269 359,268.6 362,269 364,268.4 366.4,271 368,270 371,267 374,265.6 378,264 382,262.6 386,261.4 389,261 393,261.4 397,263 400,264 403,265 406,266.4 409,267.6 412,268.4 415,269 418,269 421,268.4 424,269 427,269.6 430,270 433,269 436,267.6 439,267 442,267 445,266.4 447,264 449,261 452,259 455,257 457.6,254 459,251 461,250.6 463,252 465,251 467,250.6 468,253 469,256 472,256.4 476,258 480,259.6 484,261 488,263 491,265 493.6,267 496,270 498,273 500,273 502,271 504.4,268 506,266 507.6,268.4 509,269 511,268 513,270 515.6,268.4 518,266 521,264.4 524,263 526,264 527.6,265 529.2,263.6" fill="none" stroke="#0a9c45" stroke-width="1.5" stroke-linejoin="round" stroke-linecap="round"/>
<polyline points="331,306 332.4,309.6 334,307 336,304 339,302 342,303 344.4,301.6 345.4,297.6 346,303 348,306 350,308 352,310 354,312 356,313 358,315.6 360,316 362,317 364,319 366,318 368,314 370,311 372,309 374,308.4 377,310.4 380,311 384,311.6 388,312.4 392,313 395,314 398,315 400,315.6 402,314.4 404,313 407,312.4 410,311.6 412.4,310 413.6,302 415.6,297 418,293.6 420,292 422,294 424,297 426,300 428,304 430,305 432,302 434,297 436,295 438,297.6 440,299.6 441.6,293 443,291 444.4,292 445.6,288 447,292 449,295 451,296 453,291 455,287 457,283 459,285 461,289 463,290 465,288.4 466.4,287.6 468,294 470,292 472,290 474,288.4 476,288.4 478,290 480,291.6 482,293 483.6,291 485,287.6 486,298 487,303.6 489,305 491,307 493,310 495,314 496.4,319 497.6,315 498.4,311 500,315 501.6,311 503,306 505,303 507,302.4 509,301 511,300.4 513,299.6 515,297.6 516.4,302 517.6,301 518.4,305 520,306 522,306 524,304 526,298 527.6,289 529,280" fill="none" stroke="#f21c30" stroke-width="1.5" stroke-linejoin="round" stroke-linecap="round"/>
<polyline points="331,308 332.4,313 334,314 336.4,312 339,310 342,308 345,308.4 347,310.4 349,309.6 351,311 353,313 355,313.6 356,315 357,311.6 357.6,305 358.4,316 359.6,319 361,324 362.4,327 363.6,323 364.4,322.4 365.6,327 367,321 368,318 370,317 372,316 374,315 376,317 378,318 380,318.4 382,317 384,315 386,313.6 388,312.4 390,313 393,314 395,313.6 397,312.6 399,313 401,312 403,313 405,314.4 408,315 411,315 412.4,316 413.6,310 415,307 417,305.6 419,303 420.4,301.6 422,305.6 424,311 426,312.4 430,312 431.6,309.6 433,307 434.4,305.6 436.4,306.4 438.4,307.6 441,309 442.4,305.6 443.6,303.6 445,288 445.6,279 447,282 448.4,290 449.6,296 451,304 452.4,299.6 454,295 455.6,292 457,289 458,294 459.6,289 461,291 462,297 463.6,294 465,296 466.4,300 468,304 470,302 472,301 474,299 476,301 478,303 480,304 482,303.6 484.4,304.4 486,313 488,317 490,320 492,319 494,318 495.6,316 496.8,327 498,317 499,327 500.4,316 501.6,310 503,304 504.4,303 505.6,306 507,311 509,317 511,321 512.4,322.4 514,318 515.6,308 516.6,301 518,306 519.6,313 521,315 522.4,311 524.4,310 526,307 527.6,298 529.2,288.4" fill="none" stroke="#0a9c45" stroke-width="1.5" stroke-linejoin="round" stroke-linecap="round"/>
<polyline points="331,369 333,371.6 335,373.6 337,369 339,365 341,365.6 343,368 344.4,367 345.6,372 348,374.4 351,375 354,375 356,375.6 357,374 358,378 359.6,379 361,376 362.4,374.4 364,377 365.6,378 367,376.4 369,371 371,366 373,363 376,362.4 379,364 382,366 385,368 388,369.6 391,370 394,371 397,372.4 400,373 403,372 406,372 409,371 411.6,371.6 413,377 414.4,372 416,368 418.4,364.4 420.4,363.6 423,365 426,368.4 429,372 430,369 432,366 434.4,364 437,365 439,368 441,366 443,359.6 444.4,357 446,362 447.6,368 449,362 450.4,350 452,338 453.6,333 455.6,332.4 457.4,337 459,346 460.4,356 462,363 464,366 466,367 468.4,366 471,363 474,359.6 477,358 480,359 481.6,358 483,352 484.4,346 485.6,352 487.6,355.6 490,360 492.4,364 495,369 497,372 499,371 501,369 503.6,364 506,361 509,360.4 512,360.4 515,360.4 516,365 518,372 520,374 522,374 524,371.6 526,368.4 528,365 529.2,363" fill="none" stroke="#f21c30" stroke-width="1.5" stroke-linejoin="round" stroke-linecap="round"/>
<polyline points="331,373.6 333,376 335,376.4 338,375 341,374.4 344,374.4 347,374.4 350,375.2 353,375.6 356,375.6 357.6,373 358.4,377 360,378 362,377.6 364,378 366,378.4 368,377 371,375.6 374,374.4 378,373 382,371.6 386,370.4 389,369.6 392,370 395,371 398,372 401,373 404,374 408,375 411,375.6 413,376 415,374 418,372.4 421,371.6 424,373.6 427,375.6 430,374 432,373 434.4,372 437,372.4 440,373 442,372 444,370 445.6,363 447,366 449,366 452,364.4 455,362.4 458,359 460,356 461.6,357.6 463,359.6 465,358 467,357 468.4,361 470,363 473,363 476,364.4 479,365.6 482,367 485,369 488,371 491,373 494,375 496.4,378 497.6,381 499,379 500.4,380 502,376 504,372.4 505.6,371.6 507,375 508.4,377 510,377.6 512,376.4 514,375 516.4,371 518,370 520,372.4 522,373 524,371 526,369 528,366 529.2,363.6" fill="none" stroke="#0a9c45" stroke-width="1.5" stroke-linejoin="round" stroke-linecap="round"/>
<polyline points="327.6,468 329,466 331,465.2 333,466.4 334.4,466.4 336,468 338,468 339.6,467 341,464.4 343,463 346,461 350,458 354,454 358,449.6 362,444.4 366,439 369.6,433 372.4,427 374,423.6 375,440 376,460 377.6,463 380,465 382.4,466.4 385,468 386.4,468 387.6,458 389,448 391,441 393.6,437 396,435 399,434.4 402,435.6 406,436.4 410,438 413.6,440 416.4,443 419,446 421,449 423.6,453 426,456.6 428,458 431,460 434,461.6 436.4,461 438,457.6 441,456.4 444,455.4 448,454 452,452.4 456,451.6 459,453 462,455.6 465,458 468,460 471,461.6 474,462.4 478,463 482,463 486,463 489,464 492,465 495,466.4 497,465 500,464.4 503,465 507,465.6 511,466.4 515,466.6 519,467 522,467.4 523.6,467.6 524.4,456 525,447 525.6,445" fill="none" stroke="#f21c30" stroke-width="1.5" stroke-linejoin="round" stroke-linecap="round"/>
<polyline points="327.6,469 330,468.4 333,469 336,470.4 340,471.4 344,472 348,472.4 353,472 358,471.6 363,471 368,470.4 373,469.6 378,469.2 382,468.6 385.6,468 387,467 389,464.4 392,461 395,458.4 398,455.6 402,453.4 406,451.6 409,449.6 412,448 415,447 418,446.4 421,446.6 424,447 428,445 430,445 431,444.4 432,448 434,449.6 437,450 439.6,449 442,450 444.4,449 446.4,448.4 447.6,451.6 450,453 453,454.4 456,456 459,456.4 462,456.6 465,458.4 468,460 471,461 475,462 479,463 483,463.6 486,464.4 489,466 492,467.6 496,468.4 500,469.6 504,471 508,472 512,472.4 515,471.6 518,470.4 521,469.6 523,470.4 525,471.6 526,472.4" fill="none" stroke="#0a9c45" stroke-width="1.5" stroke-linejoin="round" stroke-linecap="round"/>
<polyline points="327,507.6 329,506.4 330.4,505.6 332,504 333.6,505.6 335.6,506 338,505.2 341,506 343.6,507 346,509 349,511 352,512.4 355,512 358,509.6 361,506 364,501.6 367,496 370,490 372.4,483 374,477.6 374.6,486 375,494 376.4,491.6 379,489 382,485 384.4,481 385.6,480.4 386.4,488 387.6,494 390,496 394,497 398,498 402,499.6 406,502 410,504 413,504.6 416,504.4 419,503.6 422,501.6 425,497 428,494 431,491.6 434,489 436.4,488.4 438,492 439,494 442,494.4 446,496 450,499 454,503 457,506 460,505.6 463,504 468,502.6 473,502 478,503 483,504 488,505 491,504.4 493,501.6 497,501 502,500 506,499 508,498.4 509,502 510,510 511.6,515 514,516 516,515.6 517.6,517 519,521 520.4,519 522,513 523,500 524,495 525.6,494" fill="none" stroke="#f21c30" stroke-width="1.5" stroke-linejoin="round" stroke-linecap="round"/>
<polyline points="327,514 330,513 332,512 335,513 338,512.4 341,512 343,513 346,516 349,519 352,521.6 354,523 357,521.6 360,518.4 363,514 366,508 369,502 371.6,495 373.6,488 374.4,520 375.6,500 378,497.6 381,495 383.6,492.4 385.2,491 386,496 387,500 390,503 394,504.4 398,505.6 402,506.4 406,508 410,511 413,512.6 416,513 419,512 422,510 425,506 428,502 431,500 434,497.6 437,496 438.4,501 440,503.6 444,504 448,505 451,508 454,513 457,516 459.6,516.4 462,515 465,512.4 468,511 473,509.6 478,510 483,511 488,511.6 491,511 493,509 497,508.4 502,507 506,505.6 509,504 510,509 511,516 513,517.6 516,517.6 518,519 519,523.6 520,526.4 521,521 522,514 523,511 524,502 525,500" fill="none" stroke="#0a9c45" stroke-width="1.5" stroke-linejoin="round" stroke-linecap="round"/>
<polyline points="327,569 329,567.6 331.6,566 334,567 336,567.6 340,567 344,567 348,567 351,566 354,564 358,560 362,555 366,550 369.6,544 372,538 374,532 374.6,544 375.6,556 378,555.6 381,554 384,552 385.6,551 387,555 389,552 392,549 396,547.4 400,547 404,548 408,550 412,552 416,555 419,557 422,558.4 425,558 428,557.6 431,556 434,555 437,555 439,557 442,557.6 446,557.6 449,559 452,560.4 456,562 460,562.6 465,563.4 470,564 476,564.6 481,565.2 486,566 489,566 492,564.6 496,564 500,563.4 504,562.8 508,562.4 509,565 510.4,571 512,573.6 514.4,574.4 517,575 518,577 519,579.6 520.4,576 522,571 523.4,558 524.4,553 525.4,552" fill="none" stroke="#f21c30" stroke-width="1.5" stroke-linejoin="round" stroke-linecap="round"/>
<polyline points="327,573 330,572.4 333,572 337,572.4 341,572.4 344,574 347,576 350,578 353.6,579.6 357,578.4 360,575.6 363.6,571.6 367,567 370,562 372.4,557.6 374,555 374.8,577 376,564 379,562 382,560 385,558 386,564 389,565 392,564.4 395,564 398,563 402,562.4 406,561.6 410,560.4 414,559.6 418,558.4 422,557.6 425,557 428,555 430,554 432,554.6 434,555.2 436,555 438,556.4 440,558 443,558.4 446,558 449,560.4 452,563.6 455,566 458,567.6 461,567.6 464,567.2 469,567 474,567.4 479,568.4 484,569.6 488,570.4 491,569.6 494,569 498,568.6 502,568 506,567.6 509,566.4 510,570 511,575 513,576 516,576.4 518,578 519.4,580.4 521,576 522.4,571 523.6,566 525,564" fill="none" stroke="#0a9c45" stroke-width="1.5" stroke-linejoin="round" stroke-linecap="round"/>
<polyline points="36.13,122.82 37.27,124.46 38.09,127.73 38.91,129.37 39.73,126.91 40.55,124.46 41.69,125.28 42.68,124.13 43.82,123.15 45.46,122.5 46.6,122.82 47.59,125.28 48.73,127.73 49.55,126.1 50.37,124.46 51.19,126.91 52.82,127.73 54.46,128.55 55.28,125.28 56.1,124.46 56.91,126.91 57.73,128.55 59.37,129.7 61.01,129.7 62.64,129.37 64.28,129.7 65.92,129.37 67.23,129.04 68.37,125.28 69.19,122.82 70.01,126.1 71.64,127.73 73.28,129.37 74.92,128.55 76.55,127.73 77.7,126.1 79.01,127.73 80.65,129.7 82.28,128.55 83.92,126.91 85.56,126.1 86.87,123.64 88.01,122.5 89.16,124.46 90.47,127.73 92.1,128.55 93.74,123.64 95.38,120.37 96.69,122 97.83,124.46 98.98,126.91 100.29,128.55 101.6,129.7 102.74,127.73 103.89,126.1 105.2,125.77 106.83,126.91 108.47,127.73 110.11,129.37 111.74,127.41 113.27,127.19 114.91,128.83 116.55,128.01 117.36,114.1 118.18,115.74 119,119.01 119.82,122.28 120.64,117.37 121.46,115.74 122.27,119.01 123.09,115.74 124.73,114.1 126.37,114.1 128,114.92 129.64,115.74 131.28,117.37 132.91,119.01 134.55,119.01 136.19,120.65 137.82,123.92 139.13,125.56 140.28,127.19 141.42,123.92 142.73,123.1 144.37,122.28 145.19,126.37 146.01,123.92 146.82,119.01 147.64,114.1 148.46,123.92 149.28,115.74 150.1,114.1 150.92,121.46 151.73,127.19 152.55,123.92 153.37,114.1 154.19,123.92 155.5,122.28 156.64,114.1 157.79,109.19 159.1,110.83 160.41,115.74 161.55,119.01 163.19,122.28 164.83,125.56 166.46,128.83 167.28,119.01 168.1,115.74 168.92,120.65 169.74,114.1 170.88,112.46 172.19,119.01 173.5,114.1 174.65,107.55 175.47,114.1 176.28,89.55 176.78,78.09 177.43,89.55 178.41,105.92 179.56,120.65 180.7,127.19 182.01,112.46 183.32,101.01 184.14,92.82 184.96,97.73 185.61,107.55 186.92,109.19 188.56,119.01 189.87,110.83 191.01,109.19 191.83,119.01 193.47,125.56 195.11,115.74 196.74,119.01 198.86,119.1 200.41,125.28 201.96,129.91 203.5,122.19 205.05,128.37 206.59,116 208.14,109.82 209.68,116 210.77,120.64 212,117.55 213.55,116 215.09,119.1 216.64,117.55 218.18,119.1 219.73,122.19 221.28,120.64 222.82,125.28 224.37,123.73 225.91,126.05 227.46,119.1 229,116 230.55,112.14 232.09,120.64 233.64,125.28 235.19,126.82 236.42,120.64 237.5,114.46 238.59,116 239.82,103.64 240.6,95.91 241.37,108.28 242.14,125.28 242.91,114.46 243.69,104.41 244.46,112.91 245.23,122.19 246.78,116 248.32,117.55 249.87,119.1 251.41,123.73 252.96,117.55 254.51,105.19 255.59,111.37 256.82,112.91 258.37,109.82 259.91,111.37 261.46,106.73 263.01,109.05 264.55,110.6 266.1,111.37 267.64,109.82" fill="none" stroke="#f21c30" stroke-width="1.45" stroke-linejoin="round" stroke-linecap="round"/>
<polyline points="36.13,111.69 36.78,121.19 37.77,122 38.91,119.55 40.06,117.09 41.37,117.91 43,119.55 44.64,119.22 46.28,120.37 47.91,121.19 49.55,122 51.19,123.64 52.82,126.1 54.46,126.91 56.1,127.73 57.73,128.55 59.37,129.37 61.01,129.04 62.64,126.91 64.28,124.46 65.92,122 67.55,120.37 68.86,119.22 69.52,121.19 70.83,123.64 72.46,125.28 74.1,126.1 75.74,126.91 77.37,128.55 79.01,129.7 80.65,128.55 82.28,129.04 83.92,127.73 85.56,129.37 87.19,129.7 88.83,128.55 90.47,129.37 92.1,127.73 93.74,128.55 95.38,127.73 97.01,127.73 98.65,126.91 100.29,127.73 101.1,128.55 101.92,127.73 103.56,127.41 105.2,126.1 106.83,124.46 108.47,122.5 110.11,123.15 111.74,124.46 113.27,126.37 114.91,126.87 116.55,127.19 117.36,128.83 118.18,125.56 119.82,120.65 121.46,119.01 123.09,117.37 124.73,118.19 126.37,117.37 128,116.55 129.64,119.01 131.28,121.46 132.91,123.1 134.55,123.92 136.19,124.74 137.82,125.56 139.46,126.87 141.1,127.19 142.73,125.56 144.37,122.28 146.01,123.92 147.64,125.56 149.28,126.37 150.92,125.56 152.55,126.37 154.19,124.74 155.83,123.1 157.46,120.65 159.1,119.01 160.74,117.37 162.37,119.01 164.01,121.46 165.65,122.28 167.28,123.92 168.92,123.1 170.56,120.65 172.19,119.01 173.83,115.74 175.47,111.64 177.1,106.73 178.41,104.28 179.56,106.73 180.7,109.19 182.01,112.46 183.65,115.74 185.29,119.01 186.92,123.1 188.56,125.56 190.2,121.46 191.83,118.19 193.47,120.65 195.11,117.37 196.74,114.92 198.86,116 199.95,111.37 201.18,119.1 201.96,125.28 203.5,128.37 204.58,122.96 205.82,126.82 207.36,123.73 208.91,119.1 210.46,118.32 212,117.55 213.24,114.46 214.32,116 215.87,117.55 217.41,120.64 218.96,123.73 220.5,126.82 222.05,127.6 223.59,128.06 225.14,128.37 226.68,127.6 228.23,126.05 229.78,122.19 231.32,120.64 232.87,117.55 234.41,120.64 235.96,123.73 237.5,126.05 239.05,127.6 240.6,126.51 241.68,120.64 242.6,114.46 243.69,117.55 244.77,112.91 245.7,111.37 246.78,114.46 248.32,117.55 249.87,120.64 251.41,123.73 252.96,128.37 254.51,125.28 256.05,117.55 257.6,116 259.14,114.46 260.69,112.91 262.23,111.37 263.78,112.14 265.32,112.91 266.41,114.46 267.64,116" fill="none" stroke="#0a9c45" stroke-width="1.45" stroke-linejoin="round" stroke-linecap="round"/>
<polyline points="36.13,201.46 36.46,185.92 37.27,166.28 37.77,162.18 38.91,164.64 39.73,169.55 40.55,171.19 41.37,170.37 42.18,172.82 43,176.1 43.82,177.73 44.64,179.37 45.13,194.1 45.79,207.19 46.6,202.28 47.59,195.74 48.73,192.46 49.88,189.19 50.86,187.55 51.51,186.73 52.5,177.73 53.15,163 53.64,167.91 54.13,185.92 54.79,200.65 55.77,195.74 56.91,190.83 58.06,190.01 59.04,192.46 60.19,195.74 61.33,197.37 62.64,199.01 64.28,200.65 65.92,201.46 67.23,199.01 68.37,198.19 69.19,201.46 70.83,203.1 73.28,203.92 75.74,203.59 78.19,204.25 80.65,203.1 83.1,203.92 85.56,203.92 88.01,202.28 90.47,201.46 92.92,200.65 95.38,200.97 97.83,201.46 99.96,202.28 101.6,200.65 102.74,194.1 104.38,191.64 106.01,192.46 107.65,194.1 109.29,195.74 111.74,196.55 113.27,199.01 114.91,194.92 116.55,190.83 117.36,184.28 118.51,179.37 119.82,181.01 121.46,181.82 123.09,179.37 124.73,180.19 126.37,179.37 128,181.01 129.31,185.1 130.46,186.73 132.09,187.55 133.73,187.88 135.37,186.73 136.51,184.28 137.5,181.82 138.15,187.55 139.46,190.01 141.1,190.83 142.73,192.46 144.37,193.28 145.19,190.83 146.33,185.92 147.64,185.1 148.95,190.01 150.1,184.28 151.24,185.1 152.55,192.46 153.86,194.1 155.01,195.74 156.64,197.37 157.79,192.46 159.1,194.1 160.74,195.74 162.37,196.55 164.01,195.74 165.65,197.37 167.28,192.46 168.1,182.64 169.25,180.19 170.56,185.92 171.87,189.19 173.01,182.64 174.16,179.37 175.47,177.73 176.78,174.46 177.76,172.82 178.74,176.1 180.05,177.73 181.19,176.91 182.34,180.19 183.65,179.37 184.47,177.73 185.61,184.28 186.92,190.83 188.23,195.74 189.38,192.46 190.52,187.55 191.83,184.28 193.14,189.19 194.29,177.73 195.11,167.91 195.92,169.55 196.74,176.1 198.09,199.1 198.86,175.91 199.64,157.36 200.41,152.73 201.18,158.91 201.96,154.27 202.73,162 203.5,157.36 204.27,163.55 205.05,154.27 205.82,163.55 206.59,166.64 207.36,186.73 208.91,185.96 210.46,186.73 212,187.5 213.55,186.73 215.09,187.5 216.64,187.04 218.18,186.73 219.73,187.5 221.28,185.49 222.51,183.64 223.59,185.19 224.68,186.73 225.91,191.37 227.15,194.46 228.23,191.37 229.31,188.28 230.24,191.37 231.32,188.28 232.4,191.37 233.64,189.82 234.88,188.28 235.96,191.37 237.04,194.46 238.28,183.64 239.51,168.18 240.6,156.59 241.37,160.46 242.14,168.18 242.91,175.91 244.15,168.18 245.23,175.91 246,171.28 246.78,180.55 247.86,183.64 249.1,180.55 250.33,182.09 251.41,179 252.5,178.23 253.42,180.55 254.51,172.82 255.59,166.64 256.51,168.18 257.6,182.09 258.37,192.91 259.61,197.55 260.69,191.37 261.77,192.91 263.01,192.91 264.24,191.37 265.32,188.28 266.41,186.73 267.33,175.91 267.95,188.28" fill="none" stroke="#f21c30" stroke-width="1.45" stroke-linejoin="round" stroke-linecap="round"/>
<polyline points="36.13,197.37 36.46,184.28 37.27,180.19 38.91,181.01 40.55,180.19 42.18,180.68 43.82,181.33 44.64,184.28 45.46,188.37 47.09,186.73 48.73,187.88 50.37,188.86 51.19,190.01 52,189.19 52.82,177.73 53.31,165.46 53.81,177.73 54.13,199.01 54.95,207.19 56.1,206.37 57.41,202.28 58.55,200.65 59.7,202.28 61.01,204.74 62.64,205.56 64.28,207.19 65.92,207.52 67.23,206.37 68.37,202.28 69.52,201.46 70.83,205.56 73.28,205.88 75.74,205.23 78.19,205.88 80.65,205.23 83.1,206.37 85.56,206.37 88.01,205.56 90.47,205.23 92.92,204.74 95.38,205.56 97.83,206.37 99.96,206.87 101.1,205.56 101.92,197.37 103.23,194.1 104.87,193.28 106.51,194.92 108.47,197.37 110.92,199.01 113.27,201.46 114.91,199.01 116.55,194.1 117.36,188.37 118.51,184.28 119.82,186.73 121.46,188.37 123.09,185.92 124.73,185.1 126.37,186.73 128,188.37 129.31,191.64 130.46,192.46 132.09,192.46 133.73,192.79 135.37,190.83 136.51,187.55 137.5,172 138.15,182.64 139.46,188.37 141.1,190.01 142.73,190.83 144.37,194.1 145.68,192.46 146.82,185.92 147.97,187.55 149.28,192.46 150.92,194.1 152.55,195.74 153.86,199.01 155.01,207.19 156.15,199.01 157.46,195.74 159.1,197.37 160.74,196.55 162.37,198.19 164.01,197.7 165.65,198.19 167.28,194.1 168.59,189.19 169.74,191.64 171.37,194.1 173.01,187.55 174.16,182.64 175.47,169.55 176.45,174.46 177.43,182.64 178.74,185.92 180.05,184.28 181.19,186.73 182.83,190.01 184.47,192.46 185.61,199.01 186.92,203.92 187.74,207.19 188.89,199.01 190.2,195.74 191.83,192.46 193.14,197.37 194.29,184.28 195.11,170.37 196.42,179.37 198.09,199.1 198.86,172.82 199.64,148.09 200.41,163.55 201.18,154.27 201.96,157.36 202.73,160.46 203.5,154.27 204.27,158.91 205.05,157.36 205.82,163.55 206.59,165.09 207.36,192.91 208.91,194.46 210.46,196 212,197.55 213.55,198.32 215.09,197.55 216.64,195.23 218.18,197.55 219.73,194.46 221.28,191.37 222.51,188.28 223.59,191.37 224.68,194.46 225.91,196 227.15,197.55 228.23,206.82 229.31,196 230.24,175.91 230.86,189.82 231.79,203.73 232.87,189.82 233.95,200.64 235.19,191.37 236.42,196 237.5,203.73 238.59,191.37 239.82,175.91 240.6,162 241.37,175.91 242.14,188.28 243.22,191.37 244.15,183.64 245.23,166.64 246,179 247.24,191.37 248.32,199.1 249.4,191.37 250.64,185.19 251.88,191.37 252.96,203.73 254.04,189.82 255.28,175.91 256.05,173.59 257.13,180.55 258.37,186.73 259.61,191.37 260.69,189.82 261.77,191.37 263.01,189.82 264.24,191.37 265.32,200.64 266.41,206.82 267.33,185.19 267.95,196" fill="none" stroke="#0a9c45" stroke-width="1.45" stroke-linejoin="round" stroke-linecap="round"/>
<polyline points="36.13,282.64 36.78,269.55 37.77,261.37 38.91,263.82 40.06,266.28 41.37,265.46 42.68,267.91 43.82,269.55 44.64,271.19 45.46,279.37 46.28,276.91 47.09,276.1 47.91,279.37 48.73,280.19 49.55,278.55 50.86,277.73 52,274.46 52.82,264.64 53.48,269.55 54.13,281.01 55.28,277.73 56.42,276.91 57.73,278.55 59.37,280.19 61.01,281.82 62.64,281.01 64.28,282.64 65.92,281.82 67.23,281.82 68.37,280.19 69.52,281.82 70.83,282.64 72.46,283.95 74.1,284.28 75.74,283.46 77.37,284.28 79.01,282.64 80.65,284.28 82.28,285.1 83.92,283.46 85.56,281.82 87.19,279.37 88.83,281.82 90.47,282.64 92.1,280.19 93.74,278.55 95.38,276.91 97.01,278.55 98.65,280.19 100.29,282.64 101.6,284.28 102.74,280.19 103.89,276.91 105.2,277.73 106.83,278.55 108.47,279.37 110.11,280.19 111.74,279.37 113.27,282.28 114.91,279.83 116.55,275.74 117.36,270.01 118.18,265.1 119,266.73 120.15,270.01 121.46,268.37 122.77,266.73 123.91,265.92 125.06,265.1 126.37,265.92 127.68,266.73 128.82,269.19 130.46,270.83 132.09,270.01 133.73,271.15 135.37,270.83 136.51,269.19 137.5,266.73 138.15,272.46 139.46,276.55 141.1,277.37 142.73,278.19 144.37,277.37 146.01,275.74 147.32,268.37 147.97,267.55 148.95,273.28 149.93,267.55 150.92,269.19 152.23,279.01 153.37,280.65 154.52,281.46 155.83,277.37 157.14,269.19 158.28,265.1 159.43,266.73 160.74,272.46 162.05,274.1 163.19,275.74 164.83,277.37 166.46,275.74 167.28,270.83 168.59,266.73 169.74,269.19 170.88,274.1 172.19,270.83 173.5,265.92 174.65,257.73 175.47,262.64 176.28,241.37 176.78,232.36 177.43,241.37 178.41,257.73 179.56,269.19 180.7,268.37 182.01,257.73 183.32,249.55 184.14,246.28 184.96,254.46 185.61,264.28 186.92,266.73 188.23,267.55 189.38,265.1 190.2,261.82 191.01,264.28 191.83,274.1 193.47,277.37 195.11,265.92 195.92,259.37 196.74,267.55 198.4,274.46 199.33,268.28 199.95,262.09 200.87,259 201.96,261.32 203.04,257.46 203.96,258.23 205.05,255.91 206.13,262.09 207.06,269.82 208.14,265.19 209.22,264.41 210.46,269.82 212,270.6 213.55,271.37 215.09,270.6 216.64,272.91 218.18,272.14 219.73,271.37 221.28,272.91 222.51,271.37 223.59,272.91 224.68,277.55 225.91,276 227.15,274.46 228.23,276 229.78,272.91 230.86,267.5 232.09,266.73 233.33,269.82 234.41,272.91 235.49,276 236.73,273.69 237.97,271.37 239.05,268.28 239.82,255.91 240.6,242.77 241.37,252.82 242.14,262.09 243.22,257.46 244.15,255.91 244.77,266.73 245.7,269.82 246.78,268.28 248.32,269.05 249.87,271.37 251.41,272.91 252.96,271.37 254.04,262.09 254.97,254.37 256.05,252.82 256.82,259 257.6,268.28 258.68,269.82 259.91,266.73 261.46,263.64 263.01,262.87 264.55,263.64 265.79,266.73 266.87,264.41 267.64,262.09" fill="none" stroke="#f21c30" stroke-width="1.45" stroke-linejoin="round" stroke-linecap="round"/>
<polyline points="36.13,269.55 36.78,268.73 37.77,267.91 38.91,267.09 40.55,269.55 42.18,269.55 43.82,271.19 45.46,272.82 47.09,273.64 48.73,274.46 50.37,275.28 52,276.1 52.82,271.19 53.31,263 53.81,274.46 54.46,285.92 55.77,285.1 56.91,283.46 58.55,283.46 60.19,284.28 61.82,283.46 63.46,281.82 65.1,280.19 66.73,279.37 67.88,277.73 68.86,276.1 69.52,281.01 70.83,284.28 72.46,284.28 74.1,283.46 75.74,283.46 77.37,284.28 79.01,283.95 80.65,284.28 82.28,285.1 83.92,284.28 85.56,285.1 87.19,283.46 88.83,284.28 90.47,283.46 92.1,281.82 93.74,281.82 95.38,281.01 97.01,282.64 98.65,284.28 100.29,285.92 101.6,285.92 102.74,280.19 104.38,277.73 106.01,278.55 107.65,279.04 109.29,279.7 110.92,279.37 113.27,281.46 114.91,279.01 116.55,275.74 117.36,274.1 118.51,272.46 119.82,273.28 121.46,271.64 123.09,270.83 124.73,270.01 126.37,269.52 128,270.83 129.31,273.28 130.46,274.1 132.09,274.92 133.73,274.92 135.37,274.1 136.51,272.46 137.5,266.73 138.15,274.1 139.46,275.74 141.1,277.37 142.73,276.55 144.37,277.37 146.01,278.19 147.32,275.74 148.46,274.1 149.61,275.74 150.92,277.37 152.55,276.55 153.86,279.01 155.01,279.83 156.15,278.19 157.46,276.55 159.1,274.1 160.74,272.46 162.37,274.1 164.01,275.74 165.65,276.55 167.28,275.74 168.92,274.1 170.56,275.74 171.87,277.37 173.01,274.1 174.16,270.01 175.47,264.28 176.78,259.37 177.92,256.91 178.74,260.19 180.05,262.64 181.19,264.28 182.34,266.73 183.65,269.19 184.96,272.46 186.1,277.37 187.25,281.46 188.23,283.92 189.38,279.01 190.52,274.1 191.83,272.46 193.47,274.1 195.11,269.19 196.42,264.28 198.4,276 199.33,263.64 199.95,248.18 200.87,259 201.96,257.46 203.04,255.91 203.96,259 205.05,255.14 206.13,265.19 207.06,282.19 208.14,276 209.22,274.46 210.46,272.91 212,274.46 213.55,276 215.09,274.46 216.64,276 218.18,277.55 219.73,276 220.97,274.46 222.05,277.55 223.13,278.32 224.37,276 225.6,279.1 226.68,282.19 227.77,285.28 229,280.64 229.78,271.37 230.55,283.73 231.79,276 232.87,283.73 233.95,276 234.88,285.28 235.96,277.55 237.04,271.37 238.28,280.64 239.05,276 239.82,269.82 241.06,265.19 242.14,268.28 243.22,266.73 244.46,271.37 245.7,263.64 246.78,266.73 247.86,271.37 249.1,272.91 250.33,274.46 251.88,276 252.96,277.55 253.73,286.82 254.51,271.37 255.59,265.19 256.82,266.73 258.37,267.5 259.91,268.28 261.46,269.05 263.01,268.28 264.55,267.5 265.79,269.05 266.87,270.6 267.64,272.14" fill="none" stroke="#0a9c45" stroke-width="1.45" stroke-linejoin="round" stroke-linecap="round"/>
<polyline points="56.4,369.65 68.6,365.35 82.4,361.15 92.2,356.85 104,348.95 113.9,342.45 120.8,336.15 125.7,333.85 131.6,332.25 137.5,337.15 145,342.15 152.3,347.45 158,352.95 163,359.45 167.7,367.75 172,377.45 178.6,389.45 184.7,400.45 190.3,410.45 195.7,422.25 199.5,428.45 203.2,433.95 207.5,438.95 211.2,443.55 216,453.15 220.3,457.45 225.6,462.85 229.5,467.45 232,471.45 234.6,479.25 238.5,489.75 241.5,495.45 243.8,498.75 246.5,499.45 248.6,501.05 247.6,502.85 245,502.45 243,501.25 230,503.45 218.8,505.45 203,508.05 187.3,512.25 166.3,516.05 155,517.75 148,518.45 145.3,517.25 146.1,515.35 149.4,513.85 153.3,512.25 152.8,510.25 150.9,507.95 145,500.45 138.2,492.35 129.6,479.75 127.8,477.55 124.9,474.25 122,470.95 119.8,468.05 118,465.15 115.5,462.65 111.8,458.95 108.2,455.75 104.5,452.85 100.9,449.55 97.3,446.25 93.6,443.35 90.6,441.15 89.3,436.45 88.6,430.65 87.3,425.75 84.4,421.45 77.5,413.25 74.5,408.45 72.5,402.45 69.6,394.25 64.7,383.45 59.8,375.55 56.4,369.65" fill="none" stroke="#e0301e" stroke-width="2.0" stroke-linejoin="round" stroke-linecap="round"/>
<polyline points="56.4,369 68.6,364.7 82.4,360.5 92.2,356.2 104,348.3 113.9,341.8 120.8,335.5 125.7,333.2 131.6,331.6 137.5,336.5 145,341.5 152.3,346.8 158,352.3 163,358.8 167.7,367.1 172,376.8 178.6,388.8 184.7,399.8 190.3,409.8 195.7,421.6 199.5,427.8 203.2,433.3 207.5,438.3 211.2,442.9 216,452.5 220.3,456.8 225.6,462.2 229.5,466.8 232,470.8 234.6,478.6 238.5,489.1 241.5,494.8 243.8,498.1 246.5,498.8 248.6,500.4 247.6,502.2 245,501.8 243,500.6 230,502.8 218.8,504.8 203,507.4 187.3,511.6 166.3,515.4 155,517.1 148,517.8 145.3,516.6 146.1,514.7 149.4,513.2 153.3,511.6 152.8,509.6 150.9,507.3 145,499.8 138.2,491.7 129.6,479.1 127.8,476.9 124.9,473.6 122,470.3 119.8,467.4 118,464.5 115.5,462 111.8,458.3 108.2,455.1 104.5,452.2 100.9,448.9 97.3,445.6 93.6,442.7 90.6,440.5 89.3,435.8 88.6,430 87.3,425.1 84.4,420.8 77.5,412.6 74.5,407.8 72.5,401.8 69.6,393.6 64.7,382.8 59.8,374.9 56.4,369" fill="none" stroke="#7a4a14" stroke-width="1.6" stroke-linejoin="round" stroke-linecap="round"/>
<polyline points="136,378.6 150,374.2 166.4,368.6" fill="none" stroke="#e0301e" stroke-width="1.6" stroke-linejoin="round" stroke-linecap="round"/>
<polyline points="136,378.1 150,373.7 166.4,368.1" fill="none" stroke="#7a4a14" stroke-width="1.2" stroke-linejoin="round" stroke-linecap="round"/>
<polyline points="161.5,358.5 167.5,368 173,378 178.6,389" fill="none" stroke="#2a9a2a" stroke-width="2.0" stroke-linejoin="round" stroke-linecap="round"/>
<polyline points="142,373.6 150,373.5 165,368" fill="none" stroke="#2a9a2a" stroke-width="0.9" stroke-linejoin="round" stroke-linecap="round"/>
<polyline points="89.2,432.5 89.5,437" fill="none" stroke="#3cb04a" stroke-width="1.6" stroke-linejoin="round" stroke-linecap="round"/>
<polyline points="198.4,426 203.2,433.5 207.5,438.5 211.2,443.1 216,452.7 217,454.9" fill="none" stroke="#ffffff" stroke-width="2.2" stroke-linejoin="round" stroke-linecap="round"/>
<polyline points="198.4,426 203.2,433.5 207.5,438.5 211.2,443.1 216,452.7 217,454.9" fill="none" stroke="#3cae3c" stroke-width="1.2" stroke-linejoin="round" stroke-linecap="round"/>
<polyline points="238.8,490 242,496" fill="none" stroke="#3cb04a" stroke-width="1.4" stroke-linejoin="round" stroke-linecap="round"/>
<polyline points="166,516.6 172,515.7" fill="none" stroke="#3cb04a" stroke-width="1.2" stroke-linejoin="round" stroke-linecap="round"/>
<polyline points="187.5,512.5 193,511" fill="none" stroke="#3cb04a" stroke-width="1.2" stroke-linejoin="round" stroke-linecap="round"/>
<polyline points="112,459.8 114.5,461.5" fill="none" stroke="#3cb04a" stroke-width="1.2" stroke-linejoin="round" stroke-linecap="round"/>
<circle cx="139.1" cy="371.6" r="1.0" fill="#1f77b4"/>
<circle cx="142.3" cy="374.0" r="0.7" fill="#e02020"/>
<ellipse cx="107.4" cy="346.3" rx="29.5" ry="8.6" transform="rotate(-29.8 107.4 346.3)" fill="none" stroke="#1e9be6" stroke-width="1.3" stroke-dasharray="3.6,2.6"/>
<ellipse cx="209.6" cy="442.6" rx="27.2" ry="7.0" transform="rotate(56 209.6 442.6)" fill="none" stroke="#1e9be6" stroke-width="1.3" stroke-dasharray="3.6,2.6"/>
<ellipse cx="175.3" cy="511.3" rx="27.9" ry="9.2" transform="rotate(-6.6 175.3 511.3)" fill="none" stroke="#1e9be6" stroke-width="1.3" stroke-dasharray="3.6,2.6"/>
<rect x="197" y="325.3" width="58.9" height="50.7" fill="#fff" stroke="#d8d8d8" stroke-width="0.7"/>
<line x1="200.2" y1="331.2" x2="213.5" y2="331.2" stroke="#5aa6dc" stroke-width="1.1"/>
<text x="219" y="331.2" font-size="6.7" text-anchor="start" dominant-baseline="central" fill="#000" stroke="#000" stroke-width="0.2">EKF</text>
<line x1="200.2" y1="340.4" x2="213.5" y2="340.4" stroke="#ffa552" stroke-width="1.1"/>
<text x="219" y="340.4" font-size="6.7" text-anchor="start" dominant-baseline="central" fill="#000" stroke="#000" stroke-width="0.2">FGO</text>
<line x1="200.2" y1="350.3" x2="213.5" y2="350.3" stroke="#3cae4a" stroke-width="1.1"/>
<text x="219" y="350.3" font-size="6.7" text-anchor="start" dominant-baseline="central" fill="#000" stroke="#000" stroke-width="0.2">REF</text>
<circle cx="206.5" cy="360.1" r="0.75" fill="#e02020"/>
<text x="219" y="360.1" font-size="6.7" text-anchor="start" dominant-baseline="central" fill="#000" stroke="#000" stroke-width="0.2">PPP-B2b</text>
<circle cx="206.5" cy="369.6" r="0.75" fill="#1f77b4"/>
<text x="219" y="369.6" font-size="6.7" text-anchor="start" dominant-baseline="central" fill="#000" stroke="#000" stroke-width="0.2">Base Station</text>
<rect x="69.1" y="98.7" width="31.8" height="191.3" fill="none" stroke="#f07a1a" stroke-width="1.5" stroke-dasharray="4.7,3.1"/>
<rect x="139.5" y="74.2" width="50.9" height="215.8" fill="none" stroke="#f07a1a" stroke-width="1.5" stroke-dasharray="4.7,3.1"/>
<rect x="225.5" y="85.2" width="19" height="204.8" fill="none" stroke="#f07a1a" stroke-width="1.5" stroke-dasharray="4.7,3.1"/>
<text x="0" y="0" font-family="DejaVu Serif, serif" font-weight="bold" font-size="10.3" fill="#f50a14" text-anchor="middle" transform="translate(85.1 110.01) scale(1.0 1)">Ⅰ</text>
<text x="0" y="0" font-family="DejaVu Serif, serif" font-weight="bold" font-size="10.3" fill="#f50a14" text-anchor="middle" transform="translate(85.0 176.71) scale(1.0 1)">Ⅰ</text>
<text x="0" y="0" font-family="DejaVu Serif, serif" font-weight="bold" font-size="10.3" fill="#f50a14" text-anchor="middle" transform="translate(84.9 237.51) scale(1.0 1)">Ⅰ</text>
<text x="0" y="0" font-family="DejaVu Serif, serif" font-weight="bold" font-size="10.3" fill="#f50a14" text-anchor="middle" transform="translate(161.35 83.56) scale(1.0 1)">Ⅱ</text>
<text x="0" y="0" font-family="DejaVu Serif, serif" font-weight="bold" font-size="10.3" fill="#f50a14" text-anchor="middle" transform="translate(161.35 173.61) scale(1.0 1)">Ⅱ</text>
<text x="0" y="0" font-family="DejaVu Serif, serif" font-weight="bold" font-size="10.3" fill="#f50a14" text-anchor="middle" transform="translate(161.6 237.51) scale(1.0 1)">Ⅱ</text>
<text x="0" y="0" font-family="DejaVu Serif, serif" font-weight="bold" font-size="10.3" fill="#f50a14" stroke="#f50a14" stroke-width="0.5" text-anchor="middle" transform="translate(234.75 93.91) scale(0.68 1)">Ⅲ</text>
<text x="0" y="0" font-family="DejaVu Serif, serif" font-weight="bold" font-size="10.3" fill="#f50a14" stroke="#f50a14" stroke-width="0.5" text-anchor="middle" transform="translate(231.8 173.71) scale(0.68 1)">Ⅲ</text>
<text x="0" y="0" font-family="DejaVu Serif, serif" font-weight="bold" font-size="10.3" fill="#f50a14" stroke="#f50a14" stroke-width="0.5" text-anchor="middle" transform="translate(234.8 237.51) scale(0.68 1)">Ⅲ</text>
<line x1="87.95" y1="299.46" x2="103.65" y2="344.84" stroke="#f01e1e" stroke-width="1.5" stroke-dasharray="4.2,2.8"/>
<polygon points="86.3,294.7 85.81,301.54 90.91,299.77" fill="#f01e1e"/>
<polygon points="105.3,349.6 100.69,344.53 105.79,342.76" fill="#f01e1e"/>
<line x1="165.69" y1="293.24" x2="173.91" y2="507.96" stroke="#f01e1e" stroke-width="1.5" stroke-dasharray="4.2,2.8"/>
<polygon points="165.5,288.2 163.04,294.6 168.44,294.39" fill="#f01e1e"/>
<polygon points="174.1,513 171.16,506.81 176.56,506.6" fill="#f01e1e"/>
<line x1="233.24" y1="293.18" x2="211.16" y2="437.02" stroke="#f01e1e" stroke-width="1.5" stroke-dasharray="4.2,2.8"/>
<polygon points="234,288.2 230.38,294.02 235.71,294.84" fill="#f01e1e"/>
<polygon points="210.4,442 208.69,435.36 214.02,436.18" fill="#f01e1e"/></svg></body></html>
